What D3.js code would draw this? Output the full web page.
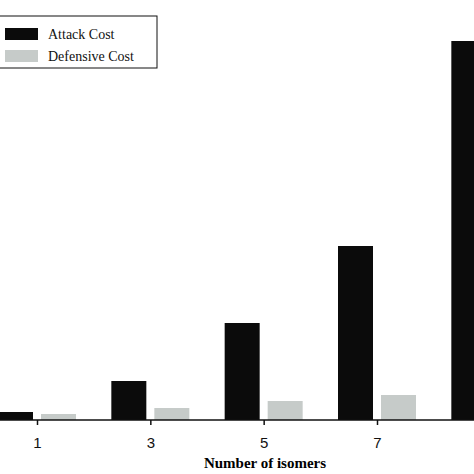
<!DOCTYPE html>
<html><head><meta charset="utf-8">
<script src="https://cdn.jsdelivr.net/npm/d3@7"></script>
<style>body{margin:0;background:#fff}</style></head>
<body><svg id="c" width="474" height="474"></svg>
<script>
const isomers = [1, 3, 5, 7, 9];
const attackCost = [8, 39, 97, 174, 379];
const defensiveCost = [6, 12, 19, 25, 30];
const tickLabels = ["1", "3", "5", "7"];
const seriesNames = ["Attack Cost", "Defensive Cost"];
const colors = ["#0b0b0b", "#c6cbc9"];

const svg = d3.select("#c");
const x = d3.scaleLinear().domain([1, 7]).range([37, 377]);
const y = d3.scaleLinear().domain([0, 400]).range([420, 20]);
const bw = 35;

svg.selectAll(".a").data(isomers).enter().append("rect")
  .attr("x", (d) => x(d) - 39).attr("width", bw)
  .attr("y", (d, i) => y(attackCost[i])).attr("height", (d, i) => y(0) - y(attackCost[i]))
  .attr("fill", colors[0]);
svg.selectAll(".d").data(isomers).enter().append("rect")
  .attr("x", (d) => x(d) + 4).attr("width", bw)
  .attr("y", (d, i) => y(defensiveCost[i])).attr("height", (d, i) => y(0) - y(defensiveCost[i]))
  .attr("fill", colors[1]);

const ax = svg.append("g").attr("transform", "translate(0,420)")
  .call(d3.axisBottom(x).tickValues([1, 3, 5, 7]).tickFormat((d, i) => tickLabels[i]).tickSizeOuter(0).tickSize(5).tickPadding(12));
ax.select(".domain").remove();
ax.append("line").attr("x1", 0).attr("x2", 474).attr("stroke", "#111").attr("stroke-width", 1.5);
ax.selectAll("text").attr("font-family", "Liberation Sans, Arial").attr("font-size", 15).attr("fill", "#111");
ax.selectAll(".tick line").attr("stroke", "#111").attr("stroke-width", 1.5);

svg.append("text").attr("x", 265).attr("y", 468).attr("text-anchor", "middle")
  .attr("font-family", "Liberation Serif, Times New Roman").attr("font-weight", "bold").attr("font-size", 15)
  .text("Number of isomers");

const lg = svg.append("g");
lg.append("rect").attr("x", -1).attr("y", 16).attr("width", 158).attr("height", 52)
  .attr("fill", "#fff").attr("stroke", "#111").attr("stroke-width", 1);
seriesNames.forEach((n, i) => {
  lg.append("rect").attr("x", 5).attr("y", 28 + i * 22).attr("width", 33).attr("height", 12).attr("fill", colors[i]);
  lg.append("text").attr("x", 48).attr("y", 39 + i * 22).attr("font-family", "Liberation Serif, Times New Roman")
    .attr("font-size", 14).attr("fill", "#111").text(n);
});
</script></body></html>
